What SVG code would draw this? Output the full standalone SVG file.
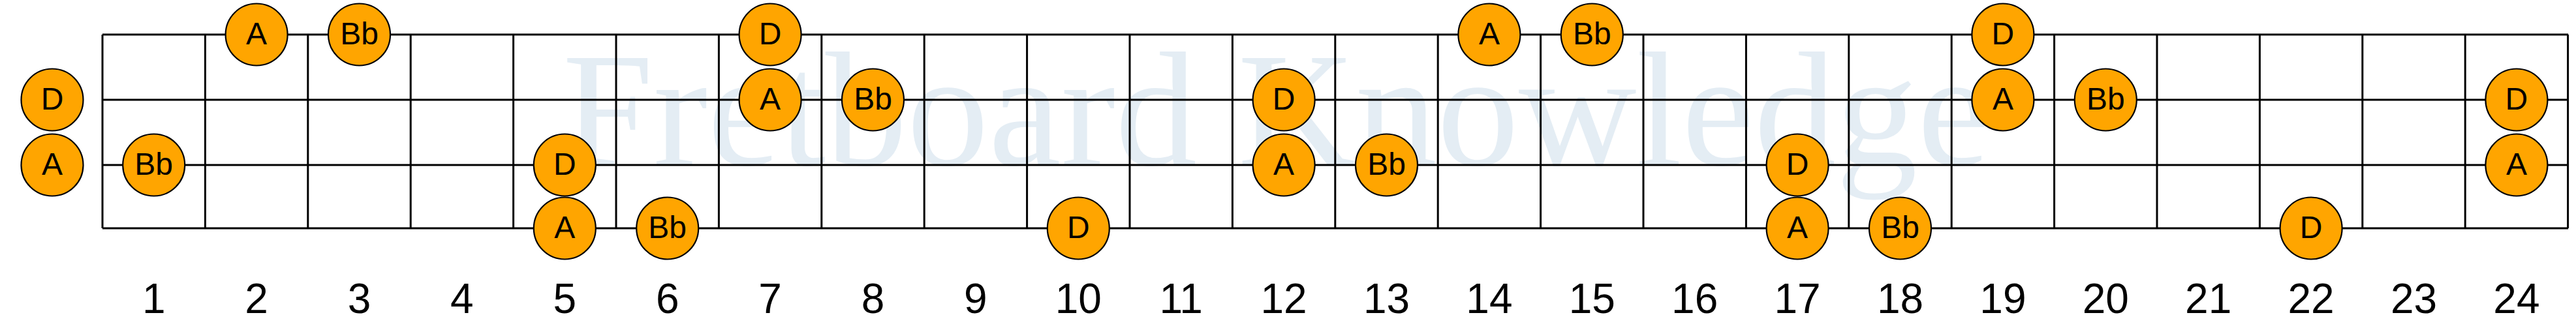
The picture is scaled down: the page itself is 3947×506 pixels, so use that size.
<svg xmlns="http://www.w3.org/2000/svg" width="3947" height="506" viewBox="0 0 3947 506">
<style>
.bg{fill:#ffffff}
.wm{font-family:"Liberation Serif","Times New Roman",serif;font-size:250px;fill:#e4edf4}
.ln{stroke:#000;stroke-width:3;fill:none}
.dot circle{fill:#ffa500;stroke:#000;stroke-width:2.2}
.dot text{font-family:"Liberation Sans",Arial,sans-serif;font-size:48px;fill:#000;text-anchor:middle}
.num{font-family:"Liberation Sans",Arial,sans-serif;font-size:64px;fill:#000;text-anchor:middle}
</style>
<rect class="bg" x="0" y="0" width="3947" height="506"/>
<text class="wm" x="862" y="253">Fretboard Knowledge</text>
<g id="connectors">
<g id="strings" class="ln">
<line x1="157" y1="53" x2="3935" y2="53"/>
<line x1="157" y1="153" x2="3935" y2="153"/>
<line x1="157" y1="253" x2="3935" y2="253"/>
<line x1="157" y1="350" x2="3935" y2="350"/>
</g>
<g id="frets" class="ln">
<line x1="157" y1="53" x2="157" y2="350"/>
<line x1="314.4" y1="53" x2="314.4" y2="350"/>
<line x1="471.8" y1="53" x2="471.8" y2="350"/>
<line x1="629.2" y1="53" x2="629.2" y2="350"/>
<line x1="786.6" y1="53" x2="786.6" y2="350"/>
<line x1="944" y1="53" x2="944" y2="350"/>
<line x1="1101.4" y1="53" x2="1101.4" y2="350"/>
<line x1="1258.8" y1="53" x2="1258.8" y2="350"/>
<line x1="1416.2" y1="53" x2="1416.2" y2="350"/>
<line x1="1573.6" y1="53" x2="1573.6" y2="350"/>
<line x1="1731" y1="53" x2="1731" y2="350"/>
<line x1="1888.4" y1="53" x2="1888.4" y2="350"/>
<line x1="2045.8" y1="53" x2="2045.8" y2="350"/>
<line x1="2203.2" y1="53" x2="2203.2" y2="350"/>
<line x1="2360.6" y1="53" x2="2360.6" y2="350"/>
<line x1="2518" y1="53" x2="2518" y2="350"/>
<line x1="2675.4" y1="53" x2="2675.4" y2="350"/>
<line x1="2832.8" y1="53" x2="2832.8" y2="350"/>
<line x1="2990.2" y1="53" x2="2990.2" y2="350"/>
<line x1="3147.6" y1="53" x2="3147.6" y2="350"/>
<line x1="3305" y1="53" x2="3305" y2="350"/>
<line x1="3462.4" y1="53" x2="3462.4" y2="350"/>
<line x1="3619.8" y1="53" x2="3619.8" y2="350"/>
<line x1="3777.2" y1="53" x2="3777.2" y2="350"/>
<line x1="3934.6" y1="53" x2="3934.6" y2="350"/>
</g>
</g>
<g id="notes">
<g id="n0-D" class="dot"><circle cx="80" cy="153" r="47.5"/><text x="80" y="168">D</text></g>
<g id="n0-A" class="dot"><circle cx="80" cy="253" r="47.5"/><text x="80" y="268">A</text></g>
<g id="n1-Bb" class="dot"><circle cx="235.7" cy="253" r="47.5"/><text x="235.7" y="268">Bb</text></g>
<g id="n2-A" class="dot"><circle cx="393.1" cy="53" r="47.5"/><text x="393.1" y="68">A</text></g>
<g id="n3-Bb" class="dot"><circle cx="550.5" cy="53" r="47.5"/><text x="550.5" y="68">Bb</text></g>
<g id="n5-D" class="dot"><circle cx="865.3" cy="253" r="47.5"/><text x="865.3" y="268">D</text></g>
<g id="n5-A" class="dot"><circle cx="865.3" cy="350" r="47.5"/><text x="865.3" y="365">A</text></g>
<g id="n6-Bb" class="dot"><circle cx="1022.7" cy="350" r="47.5"/><text x="1022.7" y="365">Bb</text></g>
<g id="n7-D" class="dot"><circle cx="1180.1" cy="53" r="47.5"/><text x="1180.1" y="68">D</text></g>
<g id="n7-A" class="dot"><circle cx="1180.1" cy="153" r="47.5"/><text x="1180.1" y="168">A</text></g>
<g id="n8-Bb" class="dot"><circle cx="1337.5" cy="153" r="47.5"/><text x="1337.5" y="168">Bb</text></g>
<g id="n10-D" class="dot"><circle cx="1652.3" cy="350" r="47.5"/><text x="1652.3" y="365">D</text></g>
<g id="n12-D" class="dot"><circle cx="1967.1" cy="153" r="47.5"/><text x="1967.1" y="168">D</text></g>
<g id="n12-A" class="dot"><circle cx="1967.1" cy="253" r="47.5"/><text x="1967.1" y="268">A</text></g>
<g id="n13-Bb" class="dot"><circle cx="2124.5" cy="253" r="47.5"/><text x="2124.5" y="268">Bb</text></g>
<g id="n14-A" class="dot"><circle cx="2281.9" cy="53" r="47.5"/><text x="2281.9" y="68">A</text></g>
<g id="n15-Bb" class="dot"><circle cx="2439.3" cy="53" r="47.5"/><text x="2439.3" y="68">Bb</text></g>
<g id="n17-D" class="dot"><circle cx="2754.1" cy="253" r="47.5"/><text x="2754.1" y="268">D</text></g>
<g id="n17-A" class="dot"><circle cx="2754.1" cy="350" r="47.5"/><text x="2754.1" y="365">A</text></g>
<g id="n18-Bb" class="dot"><circle cx="2911.5" cy="350" r="47.5"/><text x="2911.5" y="365">Bb</text></g>
<g id="n19-D" class="dot"><circle cx="3068.9" cy="53" r="47.5"/><text x="3068.9" y="68">D</text></g>
<g id="n19-A" class="dot"><circle cx="3068.9" cy="153" r="47.5"/><text x="3068.9" y="168">A</text></g>
<g id="n20-Bb" class="dot"><circle cx="3226.3" cy="153" r="47.5"/><text x="3226.3" y="168">Bb</text></g>
<g id="n22-D" class="dot"><circle cx="3541.1" cy="350" r="47.5"/><text x="3541.1" y="365">D</text></g>
<g id="n24-D" class="dot"><circle cx="3855.9" cy="153" r="47.5"/><text x="3855.9" y="168">D</text></g>
<g id="n24-A" class="dot"><circle cx="3855.9" cy="253" r="47.5"/><text x="3855.9" y="268">A</text></g>
</g>
<g id="fret-numbers" class="num">
<text x="235.7" y="480">1</text>
<text x="393.1" y="480">2</text>
<text x="550.5" y="480">3</text>
<text x="707.9" y="480">4</text>
<text x="865.3" y="480">5</text>
<text x="1022.7" y="480">6</text>
<text x="1180.1" y="480">7</text>
<text x="1337.5" y="480">8</text>
<text x="1494.9" y="480">9</text>
<text x="1652.3" y="480">10</text>
<text x="1809.7" y="480">11</text>
<text x="1967.1" y="480">12</text>
<text x="2124.5" y="480">13</text>
<text x="2281.9" y="480">14</text>
<text x="2439.3" y="480">15</text>
<text x="2596.7" y="480">16</text>
<text x="2754.1" y="480">17</text>
<text x="2911.5" y="480">18</text>
<text x="3068.9" y="480">19</text>
<text x="3226.3" y="480">20</text>
<text x="3383.7" y="480">21</text>
<text x="3541.1" y="480">22</text>
<text x="3698.5" y="480">23</text>
<text x="3855.9" y="480">24</text>
</g>
</svg>
